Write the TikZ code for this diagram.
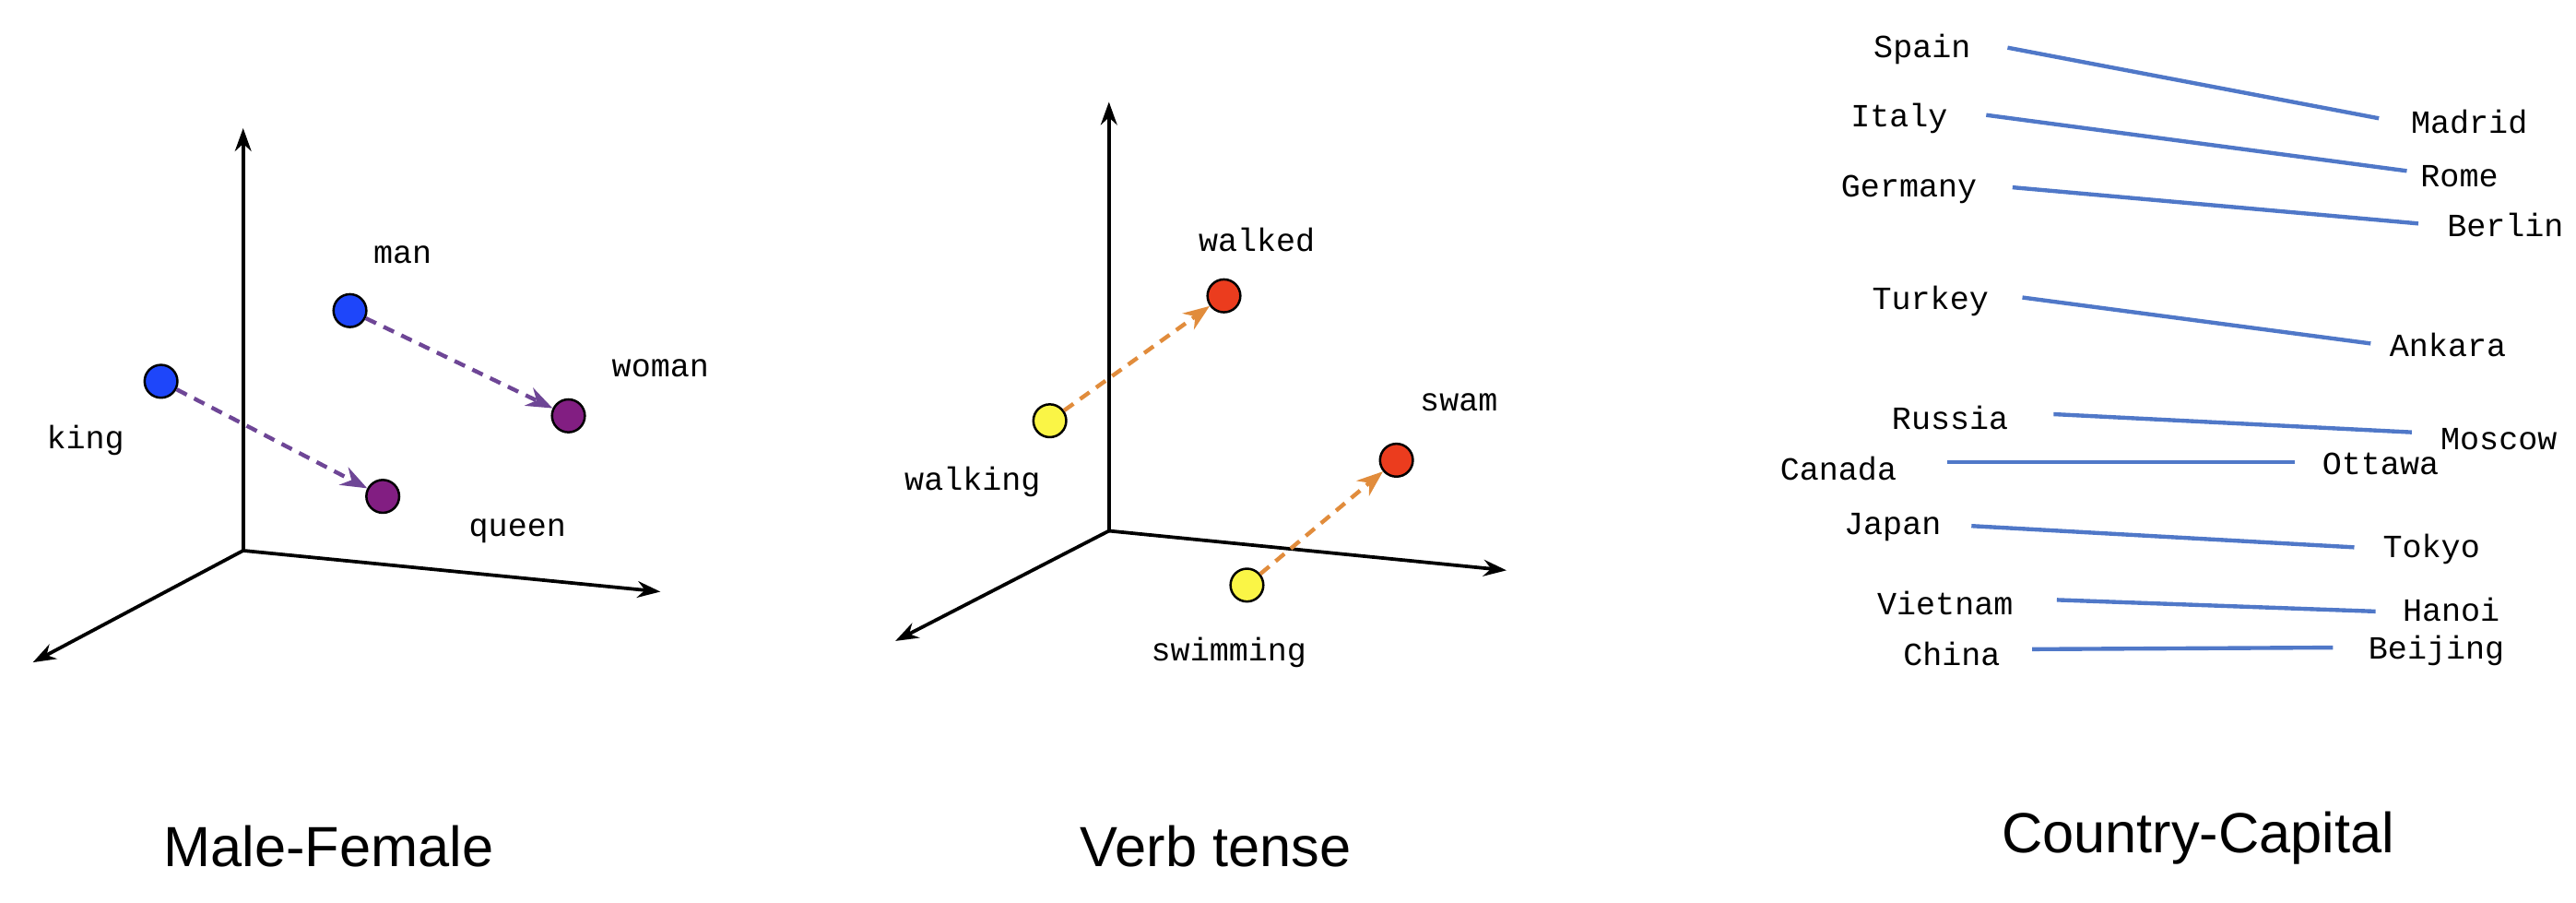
\documentclass[tikz,border=0pt]{standalone}
\usepackage{fontspec}
\setmainfont{Liberation Sans}
\newfontfamily\monof{Liberation Mono}
\usetikzlibrary{arrows.meta}
\definecolor{dblue}{RGB}{30,70,250}
\definecolor{dpurp}{RGB}{130,30,130}
\definecolor{dyel}{RGB}{250,245,70}
\definecolor{dred}{RGB}{235,60,30}
\definecolor{lpurp}{RGB}{110,70,150}
\definecolor{lorange}{RGB}{225,140,60}
\definecolor{lblue}{RGB}{80,120,200}
\tikzset{
  dot/.style={circle,draw=black,line width=2pt,minimum size=1cm,inner sep=0pt},
  lbl/.style={font=\monof\fontsize{28}{28}\selectfont,inner sep=0pt},
  ttl/.style={font=\fontsize{49}{49}\selectfont,inner sep=0pt},
  ax/.style={line width=3pt,-{Stealth[length=0.7cm,width=0.5cm]}},
  va/.style={line width=3.5pt,dashed,dash pattern=on 0.35cm off 0.25cm,-{Stealth[length=0.8cm,width=0.6cm]}},
  cl/.style={line width=3.5pt,lblue}
}
\begin{document}
\begin{tikzpicture}[x=0.05cm,y=-0.05cm]
\useasboundingbox (0,0) rectangle (1568,549);
% panel 1
\coordinate (o1) at (148,335);
\coordinate (u1) at (148,78); \coordinate (r1) at (402,360); \coordinate (d1) at (20,403);
\draw[ax] (o1) -- (u1); \draw[ax] (o1) -- (r1); \draw[ax] (o1) -- (d1);
\node[dot,fill=dblue] (man) at (213,189) {};
\node[dot,fill=dpurp] (woman) at (346,253) {};
\node[dot,fill=dblue] (king) at (98,232) {};
\node[dot,fill=dpurp] (queen) at (233,302) {};
\draw[va,lpurp] (man) -- (woman);
\draw[va,lpurp] (king) -- (queen);
\node[lbl] (lman) at (245,155) {man};
\node[lbl] (lwoman) at (402,224) {woman};
\node[lbl] (lking) at (52,268) {king};
\node[lbl] (lqueen) at (315,323) {queen};
% panel 2
\coordinate (o2) at (675,323);
\coordinate (u2) at (675,62); \coordinate (r2) at (917,347); \coordinate (d2) at (545,390);
\draw[ax] (o2) -- (u2); \draw[ax] (o2) -- (r2); \draw[ax] (o2) -- (d2);
\node[dot,fill=dyel] (walking) at (639,256) {};
\node[dot,fill=dred] (walked) at (745,180) {};
\node[dot,fill=dyel] (swimming) at (759,356) {};
\node[dot,fill=dred] (swam) at (850,280) {};
\draw[va,lorange] (walking) -- (walked);
\draw[va,lorange] (swimming) -- (swam);
\node[lbl] (lwalked) at (765,146) {walked};
\node[lbl] (lwalking) at (592,293) {walking};
\node[lbl] (lswam) at (888,245) {swam};
\node[lbl] (lswimming) at (748,397) {swimming};
% panel 3
\foreach \a/\ax/\ay/\b/\bx/\by in {
 Spain/1170/30/Madrid/1503/74,
 Italy/1156/72/Rome/1497/107,
 Germany/1162/115/Berlin/1525/137,
 Turkey/1175/183/Ankara/1490/210,
 Russia/1187/254/Moscow/1521/267,
 Canada/1119/285/Ottawa/1449/282,
 Japan/1152/321/Tokyo/1480/334,
 Vietnam/1184/367/Hanoi/1492/371,
 China/1188/398/Beijing/1483/396}{
 \node[lbl] (c\a) at (\ax,\ay) {\a};
 \node[lbl] (k\b) at (\bx,\by) {\b};
}
\draw[cl] (1222,29) -- (1448,72);
\draw[cl] (1209,70) -- (1465,104);
\draw[cl] (1225,114) -- (1472,136);
\draw[cl] (1231,181) -- (1443,209);
\draw[cl] (1250,252) -- (1468,263);
\draw[cl] (1185,281) -- (1397,281);
\draw[cl] (1200,320) -- (1433,333);
\draw[cl] (1252,365) -- (1446,372);
\draw[cl] (1237,395) -- (1420,394);
% titles
\node[ttl] (t1) at (200,515) {Male-Female};
\node[ttl] (t2) at (740,515) {Verb tense};
\node[ttl] (t3) at (1338,510) {Country-Capital};
\end{tikzpicture}
\end{document}
